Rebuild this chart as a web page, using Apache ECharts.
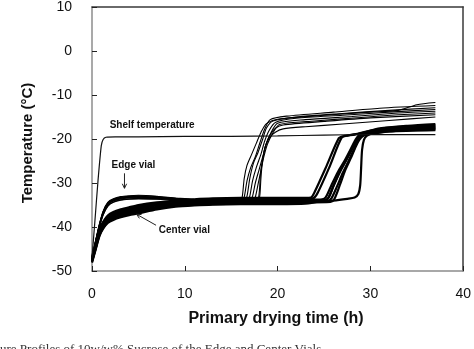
<!DOCTYPE html>
<html>
<head>
<meta charset="utf-8">
<script src="https://cdn.jsdelivr.net/npm/echarts@6/dist/echarts.min.js"></script>
<style>
  html, body { margin: 0; padding: 0; background: #fff; }
  #chart { width: 474px; height: 349px; }
</style>
</head>
<body>
<div id="chart"></div>
<script>
// Axis ticks
const xTicks = [0, 10, 20, 30, 40];
const yTicks = [-50, -40, -30, -20, -10, 0, 10];

// Shelf temperature (°C) against primary drying time (h)
const shelfHours = [0, 0.3, 0.65, 1.0, 1.2, 1.5, 2.5, 5, 10, 15, 20, 25, 30, 37];
const shelfTemps = [-47, -39, -29.4, -21.5, -20.1, -19.6, -19.5, -19.5, -19.4, -19.4, -19.3, -19.1, -19.0, -19.0];

// Edge vials: common early time grid, then each vial's own sublimation-end rise
const edgeEarlyHours = [0, 0.4, 0.8, 1.2, 1.7, 2.3, 3.1, 4, 5, 7, 9, 11, 13, 15];
const edgeEarlyTemps = [
  [-47.0, -43.0, -39.3, -36.4, -34.4, -33.6, -33.1, -32.9, -32.8, -33.0, -33.4, -33.7, -33.9, -34.0],
  [-47.1, -43.1, -39.4, -36.5, -34.5, -33.7, -33.2, -33.0, -32.9, -33.1, -33.5, -33.8, -34.0, -34.1],
  [-47.2, -43.2, -39.5, -36.6, -34.6, -33.8, -33.3, -33.1, -33.0, -33.2, -33.5, -33.8, -34.0, -34.1],
  [-47.3, -43.3, -39.6, -36.8, -34.8, -33.9, -33.4, -33.2, -33.1, -33.3, -33.6, -33.9, -34.1, -34.2],
  [-47.3, -43.4, -39.7, -36.9, -34.9, -34.0, -33.5, -33.3, -33.2, -33.4, -33.7, -34.0, -34.2, -34.3],
  [-47.4, -43.5, -39.8, -37.0, -35.0, -34.1, -33.6, -33.4, -33.3, -33.5, -33.7, -34.0, -34.2, -34.3],
  [-47.5, -43.6, -40.0, -37.2, -35.2, -34.3, -33.8, -33.6, -33.5, -33.6, -33.8, -34.1, -34.3, -34.4],
  [-47.6, -43.8, -40.1, -37.3, -35.3, -34.4, -33.9, -33.7, -33.6, -33.7, -33.9, -34.2, -34.4, -34.5]
];
const edgeLateHours = [
  [16.0, 16.2, 16.4, 16.7, 17.2, 17.7, 18.2, 18.8, 20, 25, 30, 33, 35, 37],
  [16.1, 16.4, 16.7, 17.1, 17.6, 18.1, 18.6, 19.2, 21, 26, 31, 37],
  [16.4, 16.7, 17.0, 17.4, 17.9, 18.4, 18.8, 19.5, 22, 27, 32, 37],
  [16.7, 17.0, 17.3, 17.7, 18.2, 18.6, 19.1, 19.8, 22, 27, 32, 37],
  [17.0, 17.3, 17.6, 18.0, 18.4, 18.8, 19.3, 20.0, 23, 28, 33, 37],
  [17.3, 17.6, 17.9, 18.2, 18.5, 18.9, 19.5, 20.2, 24, 29, 33, 37],
  [17.6, 17.9, 18.05, 18.15, 18.35, 18.7, 19.2, 19.8, 20.6, 25, 30, 37],
  [17.6, 17.95, 18.1, 18.2, 18.35, 18.65, 19.2, 19.8, 20.6, 23, 27, 32, 37]
];
const edgeLateTemps = [
  [-34.1, -33.0, -29.0, -26.0, -23.5, -21.0, -18.5, -16.5, -15.5, -14.6, -13.9, -13.5, -12.2, -11.7],
  [-34.2, -33.2, -29.5, -26.5, -24.0, -20.8, -17.8, -15.6, -14.8, -13.9, -13.0, -12.4],
  [-34.2, -33.0, -29.0, -25.5, -23.0, -20.0, -17.5, -15.9, -15.0, -14.2, -13.5, -12.9],
  [-34.3, -33.0, -29.5, -26.5, -23.5, -20.5, -18.0, -16.2, -15.3, -14.6, -13.9, -13.3],
  [-34.4, -33.0, -30.0, -27.0, -24.0, -21.0, -18.5, -16.4, -15.6, -14.9, -14.1, -13.7],
  [-34.4, -33.2, -30.2, -27.2, -24.2, -21.2, -18.6, -16.7, -15.9, -15.1, -14.5, -14.1],
  [-34.5, -33.8, -31.5, -28.0, -25.0, -21.5, -19.0, -17.5, -16.8, -16.0, -15.2, -14.5],
  [-34.6, -34.2, -32.5, -29.0, -25.5, -21.8, -19.5, -18.4, -17.7, -17.2, -16.6, -15.8, -15.0]
];

// Center vials: common early time grid, then each vial's own rise
const centerEarlyHours = [0, 0.4, 0.8, 1.2, 1.7, 2.3, 3.1, 4, 5, 7, 9, 11, 13, 16, 20, 23];
const centerEarlyTemps = [
  [-47.0, -43.5, -40.5, -38.8, -37.4, -36.6, -36.0, -35.5, -35.0, -34.4, -34.0, -33.7, -33.5, -33.4, -33.4, -33.4],
  [-47.2, -43.8, -40.8, -39.1, -37.7, -36.9, -36.3, -35.8, -35.3, -34.6, -34.2, -33.9, -33.7, -33.6, -33.6, -33.6],
  [-47.4, -44.1, -41.1, -39.4, -38.0, -37.2, -36.6, -36.1, -35.6, -34.9, -34.5, -34.2, -34.0, -33.9, -33.9, -33.8],
  [-47.5, -44.3, -41.3, -39.6, -38.2, -37.5, -36.9, -36.4, -35.9, -35.1, -34.6, -34.4, -34.2, -34.1, -34.0, -34.0],
  [-47.7, -44.5, -41.5, -39.8, -38.5, -37.8, -37.2, -36.7, -36.2, -35.4, -34.8, -34.6, -34.4, -34.3, -34.2, -34.2],
  [-47.8, -44.7, -41.7, -40.0, -38.7, -38.0, -37.4, -36.9, -36.5, -35.6, -35.0, -34.8, -34.6, -34.5, -34.4, -34.4],
  [-47.9, -44.9, -41.9, -40.2, -38.9, -38.2, -37.6, -37.1, -36.7, -35.8, -35.2, -35.0, -34.8, -34.7, -34.6, -34.5],
  [-48.1, -45.1, -42.1, -40.4, -39.1, -38.4, -37.8, -37.3, -36.9, -36.0, -35.4, -35.1, -34.9, -34.8, -34.8, -34.7]
];
const centerLateHours = [
  [23.6, 24.0, 25.3, 26.6, 27.2, 28.3, 29.5, 31, 34, 37],
  [23.8, 24.3, 25.6, 26.9, 27.6, 28.6, 29.8, 32, 37],
  [24.8, 25.2, 25.8, 26.5, 27.2, 27.8, 28.3, 28.7, 29.5, 31, 34, 37],
  [25.1, 25.5, 26.1, 26.8, 27.4, 28.0, 28.5, 28.9, 29.8, 31.5, 37],
  [25.4, 25.8, 26.4, 27.0, 27.6, 28.2, 28.6, 29.0, 30.0, 32, 37],
  [25.7, 26.1, 26.7, 27.3, 27.9, 28.4, 28.8, 29.2, 30.2, 33, 37],
  [24, 26, 27.5, 28.3, 28.7, 28.9, 29.0, 29.1, 29.3, 29.6, 30.3, 32, 37],
  [24.5, 25.4, 26.0, 26.6, 27.2, 27.9, 28.4, 28.8, 29.6, 31, 37]
];
const centerLateTemps = [
  [-33.3, -32.0, -26.0, -19.8, -19.3, -19.0, -18.4, -17.6, -17.0, -16.6],
  [-33.5, -32.3, -26.3, -19.7, -19.2, -18.8, -18.2, -17.4, -16.9],
  [-33.7, -33.2, -30.5, -27.5, -25.0, -22.6, -20.5, -19.3, -18.6, -17.8, -17.3, -17.0],
  [-33.9, -33.3, -30.2, -27.0, -24.8, -22.3, -20.3, -19.2, -18.5, -17.9, -17.3],
  [-34.1, -33.5, -30.8, -27.8, -25.2, -22.5, -20.5, -19.4, -18.7, -18.0, -17.6],
  [-34.3, -33.7, -30.5, -27.0, -24.3, -21.8, -20.2, -19.3, -18.8, -18.1, -17.8],
  [-34.3, -34.0, -33.6, -33.3, -32.5, -30.5, -26.5, -22.5, -20.2, -19.3, -18.7, -18.3, -18.0],
  [-34.2, -33.6, -30.8, -28.0, -25.5, -22.8, -20.6, -19.4, -18.7, -18.0, -17.5]
];

// Annotation anchors in data units [hour, °C]
const shelfLabelAt = [1.9, -16.9];
const edgeLabelAt = [2.1, -25.9];
const edgeArrowFrom = [3.5, -27.8];
const edgeArrowTo = [3.5, -31.2];
const centerLabelAt = [7.2, -40.7];
const centerArrowFrom = [6.9, -39.6];
const centerArrowTo = [4.8, -37.1];

const FONT = '"Liberation Sans", Arial, sans-serif';

function pairs(hours, temps) {
  return hours.map((h, i) => [h, temps[i]]);
}

const series = [];
edgeEarlyTemps.forEach((early, k) => {
  const data = pairs(edgeEarlyHours, early).concat(pairs(edgeLateHours[k], edgeLateTemps[k]));
  series.push({
    type: 'line', data, showSymbol: false, smooth: 0.25, silent: true, z: 3,
    lineStyle: { color: '#000', width: 1.1 }
  });
});
centerEarlyTemps.forEach((early, k) => {
  const data = pairs(centerEarlyHours, early).concat(pairs(centerLateHours[k], centerLateTemps[k]));
  series.push({
    type: 'line', data, showSymbol: false, smooth: 0.25, silent: true, z: 4,
    lineStyle: { color: '#000', width: 2.2 }
  });
});
series.push({
  type: 'line', data: pairs(shelfHours, shelfTemps), showSymbol: false, smooth: 0.2, silent: true, z: 5,
  lineStyle: { color: '#111', width: 1.2 }
});

const chart = echarts.init(document.getElementById('chart'), null, { renderer: 'canvas' });

const axisCommon = {
  type: 'value',
  splitLine: { show: false }
};

chart.setOption({
  animation: false,
  backgroundColor: '#fff',
  grid: { left: 92, right: 6, top: 6, bottom: 78, containLabel: false },
  xAxis: [
    Object.assign({}, axisCommon, {
      position: 'bottom', min: xTicks[0], max: xTicks[xTicks.length - 1], interval: 10,
      axisLine: { onZero: false, lineStyle: { color: '#8c8c8c', width: 1.5 } },
      axisTick: { inside: true, length: 5, lineStyle: { color: '#222', width: 1 } },
      axisLabel: { color: '#111', fontSize: 14, fontFamily: FONT, margin: 16 }
    }),
    Object.assign({}, axisCommon, {
      position: 'top', min: xTicks[0], max: xTicks[xTicks.length - 1], interval: 10,
      axisLine: { onZero: false, lineStyle: { color: '#3a3a3a', width: 1.5 } },
      axisTick: { show: false }, axisLabel: { show: false }
    })
  ],
  yAxis: [
    Object.assign({}, axisCommon, {
      position: 'left', min: yTicks[0], max: yTicks[yTicks.length - 1], interval: 10,
      axisLine: { onZero: false, lineStyle: { color: '#8c8c8c', width: 1.5 } },
      axisTick: { inside: true, length: 5, lineStyle: { color: '#222', width: 1 } },
      axisLabel: { color: '#111', fontSize: 14, fontFamily: FONT, margin: 20 }
    }),
    Object.assign({}, axisCommon, {
      position: 'right', min: yTicks[0], max: yTicks[yTicks.length - 1], interval: 10,
      axisLine: { onZero: false, lineStyle: { color: '#3a3a3a', width: 1.5 } },
      axisTick: { show: false }, axisLabel: { show: false }
    })
  ],
  series
});

// Labels, arrows and titles placed from data positions
function px(p) { return chart.convertToPixel({ xAxisIndex: 0, yAxisIndex: 0 }, p); }

function arrow(fromD, toD) {
  const a = px(fromD), b = px(toD);
  const ang = Math.atan2(b[1] - a[1], b[0] - a[0]);
  const L = 5, spread = 0.45;
  const h1 = [b[0] - L * Math.cos(ang - spread), b[1] - L * Math.sin(ang - spread)];
  const h2 = [b[0] - L * Math.cos(ang + spread), b[1] - L * Math.sin(ang + spread)];
  return [
    { type: 'line', shape: { x1: a[0], y1: a[1], x2: b[0], y2: b[1] }, style: { stroke: '#222', lineWidth: 1 }, z: 20 },
    { type: 'polyline', shape: { points: [h1, b, h2] }, style: { stroke: '#222', lineWidth: 1, fill: null }, z: 20 }
  ];
}

function label(text, at) {
  const p = px(at);
  return {
    type: 'text', x: p[0], y: p[1], z: 20,
    style: { text, fill: '#111', font: 'bold 10px ' + FONT, textAlign: 'left', textVerticalAlign: 'middle' }
  };
}

const graphics = [
  label('Shelf temperature', shelfLabelAt),
  label('Edge vial', edgeLabelAt),
  label('Center vial', centerLabelAt)
].concat(arrow(edgeArrowFrom, edgeArrowTo), arrow(centerArrowFrom, centerArrowTo));

graphics.push({
  type: 'text', x: 28, y: 143, rotation: Math.PI / 2, z: 20,
  style: { text: 'Temperature (°C)', fill: '#111', font: 'bold 15px ' + FONT, textAlign: 'center', textVerticalAlign: 'middle' }
});
graphics.push({
  type: 'text', x: 276, y: 319, z: 20,
  style: { text: 'Primary drying time (h)', fill: '#111', font: 'bold 16px ' + FONT, textAlign: 'center', textVerticalAlign: 'middle' }
});
graphics.push({
  type: 'text', x: 0, y: 350, z: 20,
  style: { text: 'ure Profiles of 10w/w% Sucrose of the Edge and Center Vials', fill: '#333', font: '13px "Liberation Serif", "Times New Roman", serif', textAlign: 'left', textVerticalAlign: 'middle' }
});

chart.setOption({ graphic: graphics });
</script>
</body>
</html>
